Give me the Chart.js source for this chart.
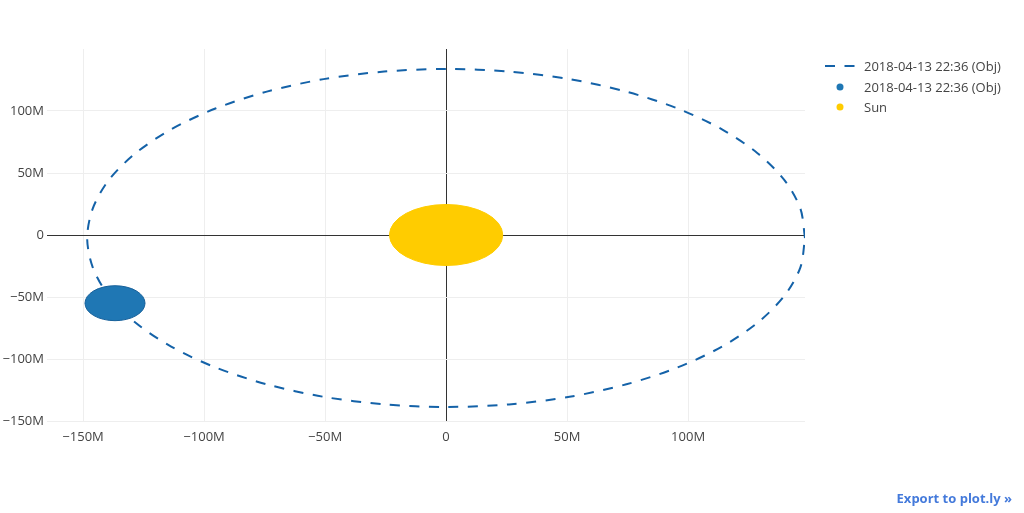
<!DOCTYPE html>
<html>
<head>
<meta charset="utf-8">
<script src="https://cdn.jsdelivr.net/npm/chart.js@4.4.0/dist/chart.umd.min.js"></script>
<style>
  html, body { margin: 0; padding: 0; background: #fff; }
  #wrap { position: relative; width: 1024px; height: 513px; }
  #export { position: absolute; right: 12px; top: 489px; font: bold 13px "Open Sans", sans-serif; color: #447adb; }
</style>
</head>
<body>
<div id="wrap">
  <canvas id="myChart" width="1024" height="513"></canvas>
  <div id="export">Export to plot.ly »</div>
</div>
<script>
// orbit trace (M = 1e6)
const orbitX = [148.3, 146.4, 139.8, 128.8, 114.0, 95.7, 74.5, 51.0, 26.0, 0.2, -25.6, -50.6, -74.1, -95.3, -113.6, -128.4, -139.4, -146.0, -148.3,
                -146.0, -139.4, -128.4, -113.6, -95.3, -74.1, -50.6, -25.6, 0.2, 26.0, 51.0, 74.5, 95.7, 114.0, 128.8, 139.8, 146.4, 148.3];
const orbitY = [-2.4, 21.3, 44.2, 65.8, 85.2, 102.0, 115.6, 125.7, 131.8, 133.9, 131.8, 125.7, 115.6, 102.0, 85.2, 65.8, 44.2, 21.3, -2.4,
                -26.1, -49.0, -70.6, -90.0, -106.8, -120.4, -130.5, -136.6, -138.7, -136.6, -130.5, -120.4, -106.8, -90.0, -70.6, -49.0, -26.1, -2.4];

// bodies: centre and radii along x / y
const objX = [-136.8], objY = [-55.0], objRx = [12.4], objRy = [14.1];
const sunX = [0], sunY = [0], sunRx = [23.4], sunRy = [24.6];

const labels = ["2018-04-13 22:36 (Obj)", "2018-04-13 22:36 (Obj)", "Sun"];
const xTicks = [-150, -100, -50, 0, 50, 100];
const yTicks = [-150, -100, -50, 0, 50, 100];

const M = 1e6;
const orbitColor = "#1462a8";
const objColor = "#1f77b4";
const sunColor = "#ffcc00";

function fmt(v) {
    const m = Math.round(v / M);
    if (m === 0) return "0";
    return (m < 0 ? "\u2212" : "") + Math.abs(m) + "M";
}

const orbitPts = orbitX.map((x, i) => ({ x: x * M, y: orbitY[i] * M }));

const bodies = {
    id: "bodies",
    afterDatasetsDraw(chart) {
        const ctx = chart.ctx;
        const xs = chart.scales.x, ys = chart.scales.y;
        const draw = (cx, cy, rx, ry, fill, stroke) => {
            const px = xs.getPixelForValue(cx * M);
            const py = ys.getPixelForValue(cy * M);
            const prx = Math.abs(xs.getPixelForValue((cx + rx) * M) - px);
            const pry = Math.abs(ys.getPixelForValue((cy + ry) * M) - py);
            ctx.save();
            ctx.beginPath();
            ctx.ellipse(px, py, prx, pry, 0, 0, Math.PI * 2);
            ctx.fillStyle = fill;
            ctx.fill();
            ctx.lineWidth = 1;
            ctx.strokeStyle = stroke;
            ctx.stroke();
            ctx.restore();
        };
        sunX.forEach((x, i) => draw(x, sunY[i], sunRx[i], sunRy[i], sunColor, sunColor));
        objX.forEach((x, i) => draw(x, objY[i], objRx[i], objRy[i], objColor, "#17609a"));
    },
    afterDraw(chart) {
        const ctx = chart.ctx;
        ctx.save();
        ctx.font = '13px "Open Sans"';
        ctx.textBaseline = "middle";
        const rows = [66, 87, 107];
        // dashed line symbol
        ctx.strokeStyle = orbitColor;
        ctx.lineWidth = 2;
        ctx.setLineDash([10, 9.5]);
        ctx.beginPath();
        ctx.moveTo(825, rows[0]);
        ctx.lineTo(855, rows[0]);
        ctx.stroke();
        ctx.setLineDash([]);
        ctx.fillStyle = objColor;
        ctx.beginPath(); ctx.arc(840, rows[1], 3.5, 0, Math.PI * 2); ctx.fill();
        ctx.fillStyle = sunColor;
        ctx.beginPath(); ctx.arc(840, rows[2], 3.5, 0, Math.PI * 2); ctx.fill();
        ctx.fillStyle = "#444";
        labels.forEach((l, i) => ctx.fillText(l, 864, rows[i] + 1));
        ctx.restore();
    }
};

const ctx = document.getElementById('myChart');

new Chart(ctx, {
    type: 'scatter',
    data: {
        datasets: [{
            label: labels[0],
            data: orbitPts,
            showLine: true,
            borderColor: orbitColor,
            borderWidth: 2,
            borderDash: [10, 9.5],
            tension: 0.3,
            pointRadius: 0,
            fill: false
        }]
    },
    options: {
        responsive: false,
        animation: false,
        layout: { padding: { top: 49, right: 219, left: 0, bottom: 0 } },
        plugins: { legend: { display: false }, tooltip: { enabled: false } },
        scales: {
            x: {
                type: 'linear',
                min: -164.9 * M,
                max: 148.3 * M,
                afterFit: (s) => { s.height = 92; },
                afterBuildTicks: (s) => { s.ticks = xTicks.map(v => ({ value: v * M })); },
                border: { display: false },
                grid: {
                    drawTicks: false,
                    color: (c) => c.tick && c.tick.value === 0 ? "#333" : "#eee"
                },
                ticks: {
                    padding: 8,
                    maxRotation: 0,
                    color: "#444",
                    font: { family: "Open Sans", size: 13 },
                    callback: (v) => fmt(v)
                }
            },
            y: {
                type: 'linear',
                min: -150 * M,
                max: 150 * M,
                afterFit: (s) => { s.width = 47; },
                afterBuildTicks: (s) => { s.ticks = yTicks.map(v => ({ value: v * M })); },
                border: { display: false },
                grid: {
                    drawTicks: false,
                    color: (c) => c.tick && c.tick.value === 0 ? "#333" : "#eee"
                },
                ticks: {
                    padding: 3,
                    color: "#444",
                    font: { family: "Open Sans", size: 13 },
                    callback: (v) => fmt(v)
                }
            }
        }
    },
    plugins: [bodies]
});
</script>
</body>
</html>
